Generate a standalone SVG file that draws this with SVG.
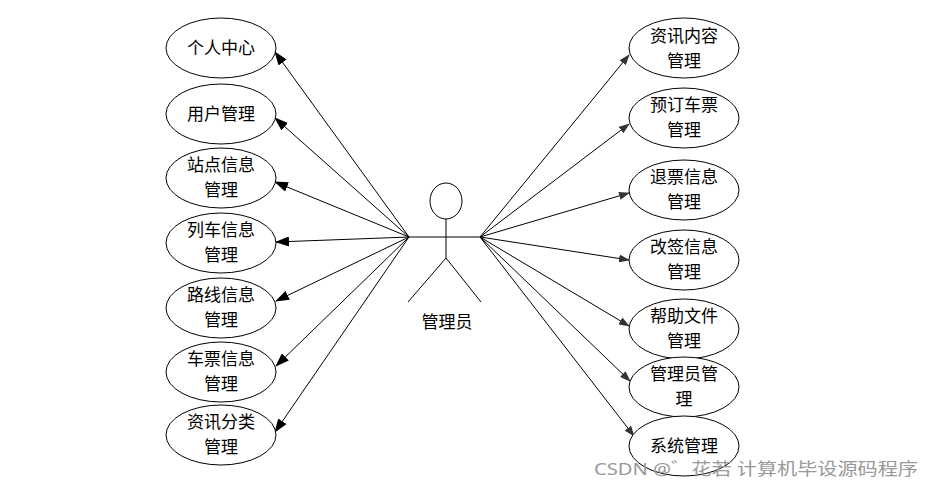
<svg xmlns="http://www.w3.org/2000/svg" width="933" height="488" viewBox="0 0 933 488">
<style>
.n ellipse{fill:#fff;stroke:#000;stroke-width:1}
text{font-family:"Liberation Serif","Noto Sans CJK SC",serif;font-size:17px;fill:#000;text-anchor:middle}
.c line{stroke:#000;stroke-width:1}
.l{marker-end:url(#ab)}
.r{marker-end:url(#ar)}
</style>
<defs>
<marker id="ab" markerWidth="14" markerHeight="10" refX="13" refY="5" orient="auto" markerUnits="userSpaceOnUse"><path d="M0,0 L14,5 L0,10 z" fill="#000"/></marker>
<marker id="ar" markerWidth="11" markerHeight="8" refX="10" refY="4" orient="auto" markerUnits="userSpaceOnUse"><path d="M0,0 L11,4 L0,8 z" fill="#333"/></marker>
</defs>
<rect width="933" height="488" fill="#fff"/>
<g id="actor" fill="none" stroke="#000">
<ellipse cx="446" cy="201" rx="16" ry="18"/>
<line x1="446" y1="219" x2="446" y2="258"/>
<line x1="409" y1="237" x2="480" y2="237"/>
<line x1="446" y1="258" x2="408" y2="302"/>
<line x1="446" y1="258" x2="481" y2="302"/>
<text x="447" y="328" stroke="none">管理员</text>
</g>
<g class="c">
<line class="l" x1="409" y1="237" x2="275" y2="52"/>
<line class="l" x1="409" y1="237" x2="275" y2="118"/>
<line class="l" x1="409" y1="237" x2="275" y2="182"/>
<line class="l" x1="409" y1="237" x2="276" y2="242"/>
<line class="l" x1="409" y1="237" x2="276" y2="301"/>
<line class="l" x1="409" y1="237" x2="276" y2="366"/>
<line class="l" x1="409" y1="237" x2="275" y2="432"/>
<line class="r" x1="480" y1="237" x2="629" y2="55"/>
<line class="r" x1="480" y1="237" x2="629" y2="124"/>
<line class="r" x1="480" y1="237" x2="629" y2="193"/>
<line class="r" x1="480" y1="237" x2="629" y2="260"/>
<line class="r" x1="480" y1="237" x2="629" y2="326"/>
<line class="r" x1="480" y1="237" x2="630" y2="381"/>
<line class="r" x1="480" y1="237" x2="634" y2="436"/>
</g>
<g id="n1" class="n"><ellipse cx="221" cy="48" rx="55" ry="30"/><text x="221" y="54">个人中心</text></g>
<g id="n2" class="n"><ellipse cx="221" cy="114" rx="55" ry="30"/><text x="221" y="120">用户管理</text></g>
<g id="n3" class="n"><ellipse cx="221" cy="178" rx="55" ry="30"/><text x="221" y="171">站点信息</text><text x="221" y="196">管理</text></g>
<g id="n4" class="n"><ellipse cx="221" cy="243" rx="55" ry="30"/><text x="221" y="236">列车信息</text><text x="221" y="261">管理</text></g>
<g id="n5" class="n"><ellipse cx="221" cy="308" rx="55" ry="30"/><text x="221" y="301">路线信息</text><text x="221" y="326">管理</text></g>
<g id="n6" class="n"><ellipse cx="221" cy="372" rx="55" ry="30"/><text x="221" y="365">车票信息</text><text x="221" y="390">管理</text></g>
<g id="n7" class="n"><ellipse cx="221" cy="435" rx="55" ry="30"/><text x="221" y="428">资讯分类</text><text x="221" y="453">管理</text></g>
<g id="m1" class="n"><ellipse cx="684" cy="48" rx="55" ry="30"/><text x="684" y="42">资讯内容</text><text x="684" y="67">管理</text></g>
<g id="m2" class="n"><ellipse cx="684" cy="118" rx="55" ry="30"/><text x="684" y="111">预订车票</text><text x="684" y="136">管理</text></g>
<g id="m3" class="n"><ellipse cx="684" cy="190" rx="55" ry="30"/><text x="684" y="183">退票信息</text><text x="684" y="208">管理</text></g>
<g id="m4" class="n"><ellipse cx="684" cy="260" rx="55" ry="30"/><text x="684" y="253">改签信息</text><text x="684" y="278">管理</text></g>
<g id="m5" class="n"><ellipse cx="684" cy="329" rx="55" ry="30"/><text x="684" y="322">帮助文件</text><text x="684" y="347">管理</text></g>
<g id="m6" class="n"><ellipse cx="684" cy="387" rx="55" ry="30"/><text x="684" y="380">管理员管</text><text x="684" y="405">理</text></g>
<g id="m7" class="n"><ellipse cx="684" cy="446" rx="55" ry="30"/><text x="684" y="452">系统管理</text></g>
<text x="594" y="475" textLength="324" lengthAdjust="spacingAndGlyphs" style="font-family:'Noto Sans','Noto Sans CJK SC',sans-serif;font-size:17px;fill:#999;text-anchor:start">CSDN @゛花若  计算机毕设源码程序</text>
</svg>
